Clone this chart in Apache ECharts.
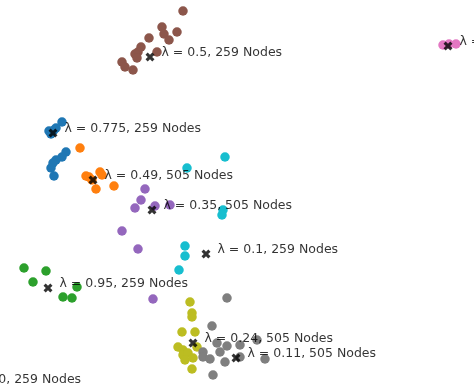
<!DOCTYPE html>
<html>
<head>
<meta charset="utf-8">
<script src="https://cdn.jsdelivr.net/npm/echarts@6/dist/echarts.min.js"></script>
<style>
html,body{margin:0;padding:0;background:#fff;}
#chart{width:474px;height:387px;}
</style>
</head>
<body>
<div id="chart"></div>
<script>
// Embedding coordinates (in plot units)
const brownPts  = [[183,11],[162,27],[164,34],[169,40],[177,32],[149,38],[141,47],[138,52],[135,54],[137,58],[157,52],[122,62],[125,67],[133,70]];
const pinkPts   = [[443,45],[449,44],[456,44]];
const bluePts   = [[62,122],[56,128],[49,131],[51,134],[54,130],[66,152],[62,157],[56,160],[53,163],[51,168],[54,176]];
const orangePts = [[80,148],[86,176],[89,177],[100,172],[102,175],[96,189],[114,186],[92,180]];
const purplePts = [[145,189],[141,200],[135,208],[155,206],[170,205],[122,231],[138,249],[153,299]];
const cyanPts   = [[187,168],[225,157],[223,210],[222,215],[185,246],[185,256],[179,270]];
const greenPts  = [[24,268],[46,271],[33,282],[77,287],[63,297],[72,298]];
const olivePts  = [[190,302],[192,313],[192,317],[182,332],[195,332],[178,347],[183,350],[183,355],[188,353],[185,360],[193,358],[192,369],[197,347]];
const grayPts   = [[227,298],[212,326],[217,343],[227,346],[220,352],[203,352],[203,357],[210,359],[225,362],[240,357],[265,359],[213,375],[240,345],[257,340]];

const centerX = [150, 448, 53, 93, 152, 206, 48, 193, 236, -51];
const centerY = [57, 46, 133, 180, 210, 254, 288, 343, 358, 384];
const centerLabels = ['λ = 0.5, 259 Nodes','λ = 0.0, 259 Nodes','λ = 0.775, 259 Nodes','λ = 0.49, 505 Nodes','λ = 0.35, 505 Nodes','λ = 0.1, 259 Nodes','λ = 0.95, 259 Nodes','λ = 0.24, 505 Nodes','λ = 0.11, 505 Nodes','λ = 1.0, 259 Nodes'];

const groups = [
  [brownPts,'#8c564b'],[pinkPts,'#e377c2'],[bluePts,'#1f77b4'],[orangePts,'#ff7f0e'],
  [purplePts,'#9467bd'],[cyanPts,'#17becf'],[greenPts,'#2ca02c'],[olivePts,'#bcbd22'],[grayPts,'#7f7f7f']
];

const series = groups.map(([pts,color]) => ({
  type:'scatter', data: pts, symbolSize: 9.5, clip:false, silent:true,
  itemStyle:{color: color, opacity: 1}
}));

series.push({
  type:'scatter', clip:false, silent:true, z: 5,
  symbol:'path://M0,2.4 L2.4,0 L5,2.6 L7.6,0 L10,2.4 L7.4,5 L10,7.6 L7.6,10 L5,7.4 L2.4,10 L0,7.6 L2.6,5 Z',
  symbolSize: 9,
  itemStyle:{color:'#000'},
  data: centerX.map((x,i)=>({value:[x,centerY[i]], name: centerLabels[i]})),
  label:{show:true, position:'right', distance:7, offset:[0,-4],
    formatter: p => p.name, color:'#000', fontFamily:'DejaVu Sans', fontSize:12.5}
});

const chart = echarts.init(document.getElementById('chart'), null, {renderer:'canvas'});
chart.setOption({
  animation:false,
  backgroundColor:'#fff',
  grid:{left:0,right:0,top:0,bottom:0},
  xAxis:{type:'value', min:0, max:474, show:false},
  yAxis:{type:'value', min:0, max:387, inverse:true, show:false},
  series: series
});
</script>
</body>
</html>
